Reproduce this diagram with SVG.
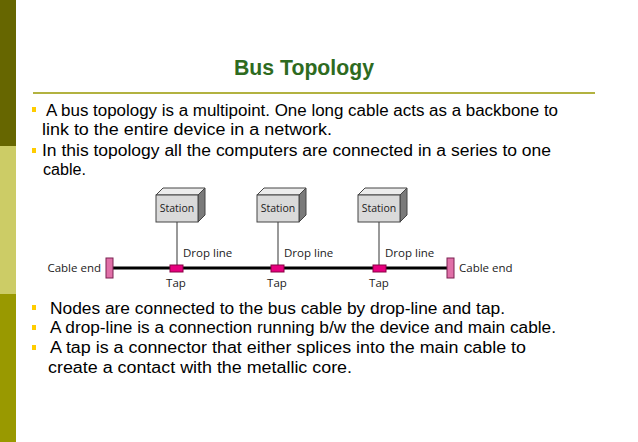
<svg xmlns="http://www.w3.org/2000/svg" width="638" height="442" viewBox="0 0 638 442">
<style>
.txt{font-family:"Liberation Sans","DejaVu Sans",sans-serif;font-size:16px;fill:#000}
.ttl{font-family:"Liberation Sans","DejaVu Sans",sans-serif;font-size:22px;font-weight:bold;fill:#2e6b1f}
.lbl{font-family:"Open Sans","Liberation Sans",sans-serif;font-size:11.5px;fill:#222}
.st{font-family:"Open Sans","Liberation Sans",sans-serif;font-size:10.5px;fill:#222}
.bul{fill:#ffcc00}
.front{fill:#dadada;stroke:#444;stroke-width:1}
.top{fill:#ececec;stroke:#444;stroke-width:1}
.side{fill:#7a7a7a;stroke:#444;stroke-width:1}
.drop{stroke:#555;stroke-width:1.2;fill:none}
.tap{fill:#e6007e;stroke:#8a0045;stroke-width:1}
.end{fill:#e070a8;stroke:#7a2050;stroke-width:1}
</style>
<rect x="0" y="0" width="638" height="442" fill="#fff"/>
<rect x="0" y="0" width="16" height="146" fill="#666600"/>
<rect x="0" y="146" width="16" height="148" fill="#cccc66"/>
<rect x="0" y="294" width="16" height="148" fill="#999900"/>
<text class="ttl" x="304" y="75" text-anchor="middle" textLength="140" lengthAdjust="spacingAndGlyphs">Bus Topology</text>
<line x1="33" y1="93" x2="595" y2="93" stroke="#999900" stroke-width="1.5"/>
<g id="top-text">
<rect class="bul" x="32" y="107" width="4" height="5"/>
<text class="txt" x="46" y="116" textLength="512" lengthAdjust="spacingAndGlyphs">A bus topology is a multipoint. One long cable acts as a backbone to</text>
<text class="txt" x="42" y="135" textLength="290" lengthAdjust="spacingAndGlyphs">link to the entire device in a network.</text>
<rect class="bul" x="32" y="148" width="4" height="5"/>
<text class="txt" x="42" y="156" textLength="509" lengthAdjust="spacingAndGlyphs">In this topology all the computers are connected in a series to one</text>
<text class="txt" x="43" y="175" textLength="43" lengthAdjust="spacingAndGlyphs">cable.</text>
</g>
<g id="connectors">
<line x1="112" y1="268" x2="448" y2="268" stroke="#000" stroke-width="3"/>
<line class="drop" x1="177" y1="222" x2="177" y2="266"/>
<line class="drop" x1="278" y1="222" x2="278" y2="266"/>
<line class="drop" x1="379" y1="222" x2="379" y2="266"/>
</g>
<g id="station1">
<polygon class="top" points="156,195 163,188 205,188 198,195"/>
<polygon class="side" points="198,195 205,188 205,215 198,222"/>
<rect class="front" x="156" y="195" width="42" height="27"/>
<text class="st" x="177" y="212" text-anchor="middle">Station</text>
</g>
<g id="station2">
<polygon class="top" points="257,195 264,188 306,188 299,195"/>
<polygon class="side" points="299,195 306,188 306,215 299,222"/>
<rect class="front" x="257" y="195" width="42" height="27"/>
<text class="st" x="278" y="212" text-anchor="middle">Station</text>
</g>
<g id="station3">
<polygon class="top" points="358,195 365,188 407,188 400,195"/>
<polygon class="side" points="400,195 407,188 407,215 400,222"/>
<rect class="front" x="358" y="195" width="42" height="27"/>
<text class="st" x="379" y="212" text-anchor="middle">Station</text>
</g>
<g id="tap1">
<rect class="tap" x="170" y="265" width="13" height="7"/>
<text class="lbl" x="176" y="287" text-anchor="middle">Tap</text>
<text class="lbl" x="183" y="257">Drop line</text>
</g>
<g id="tap2">
<rect class="tap" x="271" y="265" width="13" height="7"/>
<text class="lbl" x="277" y="287" text-anchor="middle">Tap</text>
<text class="lbl" x="284" y="257">Drop line</text>
</g>
<g id="tap3">
<rect class="tap" x="373" y="265" width="13" height="7"/>
<text class="lbl" x="379" y="287" text-anchor="middle">Tap</text>
<text class="lbl" x="385" y="257">Drop line</text>
</g>
<g id="cable-end-left">
<rect class="end" x="106" y="258" width="7" height="20"/>
<text class="lbl" x="101" y="272" text-anchor="end">Cable end</text>
</g>
<g id="cable-end-right">
<rect class="end" x="447" y="258" width="7" height="20"/>
<text class="lbl" x="459" y="272">Cable end</text>
</g>
<g id="bottom-text">
<rect class="bul" x="32" y="305" width="4" height="5"/>
<text class="txt" x="50" y="314" textLength="455" lengthAdjust="spacingAndGlyphs">Nodes are connected to the bus cable by drop-line and tap.</text>
<rect class="bul" x="32" y="325" width="4" height="5"/>
<text class="txt" x="50" y="333" textLength="506" lengthAdjust="spacingAndGlyphs">A drop-line is a connection running b/w the device and main cable.</text>
<rect class="bul" x="32" y="345" width="4" height="5"/>
<text class="txt" x="50" y="353" textLength="476" lengthAdjust="spacingAndGlyphs">A tap is a connector that either splices into the main cable to</text>
<text class="txt" x="48" y="373" textLength="304" lengthAdjust="spacingAndGlyphs">create a contact with the metallic core.</text>
</g>
</svg>
